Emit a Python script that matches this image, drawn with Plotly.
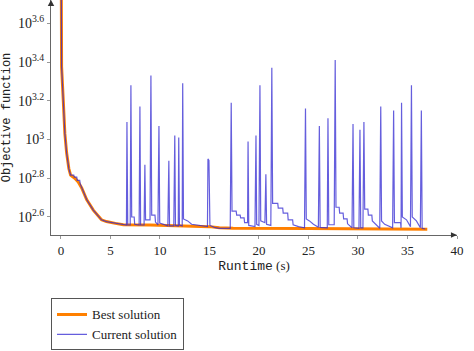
import plotly.graph_objects as go

# Best solution (runtime s, objective value)
best_t = [0, 0.07, 0.24, 0.4, 0.58, 0.8, 0.98, 1.4, 1.75, 2.1, 2.6, 3.27, 4.1, 4.6, 5.5, 6.3,
          9.0, 12.0, 15.0, 16.0, 17.4, 25.0, 30.0, 37.0]
best_v = [20000, 2371, 1585, 1072, 851, 708, 655, 631, 603, 562, 490, 432, 385, 377, 369, 363,
          362, 357, 355, 350, 348, 347, 345, 344]

# Current solution (runtime s, objective value)
cur_t = [0, 0.07, 0.24, 0.4, 0.58, 0.8, 0.98, 1.3, 1.35, 1.6, 1.65, 1.9, 1.95, 2.1, 2.6, 3.27, 4.1, 4.6, 5.5, 6.3,
         6.62, 6.67, 6.75, 7.0, 7.07, 7.15, 7.4, 7.45, 7.9, 7.98, 8.05, 8.4, 8.48, 8.55, 9.0,
         9.09, 9.17, 9.5, 9.55, 9.8, 9.9, 9.98, 10.3, 10.8, 10.9, 10.97, 11.4, 11.5, 11.57,
         11.85, 11.9, 11.97, 12.25, 12.3, 12.38, 12.8, 13.2, 14.7, 14.8, 14.85, 14.95, 15.05,
         15.5, 16.0, 17.1, 17.2, 17.28, 17.7, 17.75, 18.1, 18.15, 18.5, 18.55, 18.85, 18.9,
         18.97, 19.6, 19.7, 19.77, 20.0, 20.1, 20.18, 20.6, 20.7, 20.77, 21.2, 21.3, 21.38,
         21.9, 21.95, 22.4, 22.45, 22.9, 22.95, 23.4, 23.45, 24.0, 24.6, 24.7, 24.78, 25.1,
         25.5, 26.0, 26.1, 26.18, 26.9, 26.97, 27.05, 27.6, 27.7, 27.78, 28.1, 28.15, 28.5,
         28.55, 28.9, 28.95, 29.4, 29.5, 29.58, 30.1, 30.2, 30.28, 30.5, 30.6, 30.68, 31.0,
         31.05, 31.4, 31.45, 31.9, 32.2, 32.3, 32.38, 32.7, 33.5, 33.6, 33.68, 34.3, 34.35,
         34.4, 34.48, 34.9, 35.3, 35.4, 35.48, 35.9, 36.3, 36.4, 36.48, 36.8]
cur_v = [20000, 2371, 1585, 1072, 851, 708, 655, 655, 640, 640, 615, 615, 590, 562, 490, 432, 385, 377, 369, 363,
         362, 1230, 362, 362, 1905, 398, 398, 365, 362, 1479, 362, 362, 741, 385, 385,
         2138, 407, 407, 375, 362, 1175, 370, 365, 358, 776, 358, 358, 1047, 360,
         358, 1023, 362, 358, 1950, 389, 380, 365, 355, 355, 794, 780, 360,
         352, 348, 348, 1549, 427, 427, 407, 407, 394, 394, 372, 372, 977,
         360, 355, 1047, 365, 360, 1905, 380, 372, 661, 365, 360, 2344, 468,
         468, 442, 442, 417, 417, 385, 385, 363, 355, 350, 1445, 389, 380,
         365, 352, 1175, 352, 350, 1288, 363, 363, 2570, 447, 447, 417, 417,
         389, 389, 367, 350, 1202, 350, 348, 1122, 350, 350, 1230, 437, 437,
         407, 407, 380, 360, 348, 1479, 380, 365, 350, 1413, 372, 372, 350,
         1549, 398, 385, 355, 1905, 398, 380, 350, 1413, 348, 345]

y_exps = ["2.6", "2.8", "3", "3.2", "3.4", "3.6"]
y_tickvals = [10 ** float(e) for e in y_exps]
y_ticktext = ["10<sup>%s</sup>" % e for e in y_exps]
x_ticks = [0, 5, 10, 15, 20, 25, 30, 35, 40]

serif = "'Times New Roman', 'Liberation Serif', serif"
mono = "'Courier New', 'Liberation Mono', monospace"

fig = go.Figure()
fig.add_trace(go.Scatter(x=best_t, y=best_v, mode="lines", name="Best solution",
                         line=dict(color="rgb(255,128,0)", width=3)))
fig.add_trace(go.Scatter(x=cur_t, y=cur_v, mode="lines", name="Current solution",
                         line=dict(color="rgba(50,40,210,0.75)", width=1.2)))

fig.update_layout(
    width=474, height=351,
    margin=dict(l=51, r=17, t=0, b=116),
    paper_bgcolor="white", plot_bgcolor="white",
    font=dict(family=serif, size=13, color="#222"),
    showlegend=True,
    legend=dict(x=0, y=-0.27, xanchor="left", yanchor="top",
                bordercolor="#555", borderwidth=1, bgcolor="white",
                font=dict(family=serif, size=13), tracegroupgap=0,
                itemwidth=30),
    xaxis=dict(range=[-1, 40], tickvals=x_ticks, showgrid=False, zeroline=False,
               showline=True, linecolor="#666", linewidth=1, ticks="outside",
               ticklen=3, tickcolor="#999", tickfont=dict(family=serif, size=13, color="#222"),
               title=dict(text="<span style=\"font-family:'Courier New','Liberation Mono',monospace\">Runtime</span> (s)",
                          font=dict(family=serif, size=13), standoff=2)),
    yaxis=dict(type="log", range=[2.507, 3.72], tickvals=y_tickvals, ticktext=y_ticktext,
               showgrid=False, zeroline=False, showline=True, linecolor="#666", linewidth=1,
               ticks="outside", ticklen=3, tickcolor="#999",
               tickfont=dict(family=serif, size=14, color="#222"),
               title=dict(text="Objective function", font=dict(family=mono, size=12), standoff=4)),
    shapes=[
        dict(type="path", xref="paper", yref="paper",
             path="M 1.0 0 L 0.985 0.012 L 0.985 -0.012 Z",
             fillcolor="#333", line=dict(width=0)),
        dict(type="path", xref="paper", yref="paper",
             path="M 0 1.0 L -0.008 0.975 L 0.008 0.975 Z",
             fillcolor="#333", line=dict(width=0)),
    ],
)

fig.write_html("out.html")
